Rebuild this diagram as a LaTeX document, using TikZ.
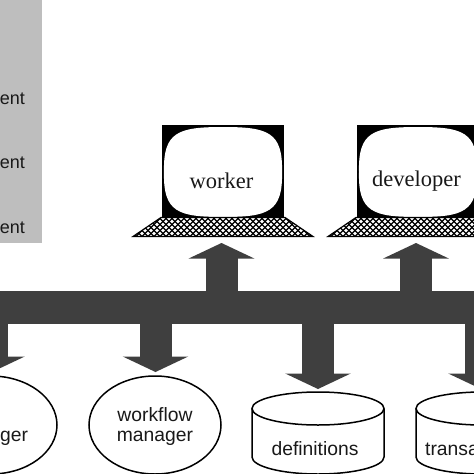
\documentclass[tikz,border=0pt]{standalone}
\usepackage{fontspec}
\setmainfont{Liberation Serif}
\setsansfont{Liberation Sans}
\usetikzlibrary{arrows.meta,shapes.geometric}
\definecolor{bardark}{HTML}{3F3F3F}
\definecolor{panelgrey}{HTML}{BEBEBE}
\tikzset{
  x=1pt,y=-1pt,
  bus/.style={fill=bardark,draw=none,minimum width=500pt,minimum height=33pt,inner sep=0pt},
  bigarrow/.style={draw=bardark,line width=32pt,-{Triangle[length=15.5pt,width=65pt]},shorten >=2pt},
  sanslabel/.style={font=\sffamily\fontsize{19.3}{20}\selectfont,align=center,inner sep=0pt,text=black!90},
  serlabel/.style={font=\rmfamily\fontsize{22.5}{24}\selectfont,inner sep=0pt,text=black!90},
  entlabel/.style={font=\sffamily\fontsize{18}{22}\selectfont,inner sep=0pt,anchor=base east,text=black!90},
  roundnode/.style={ellipse,draw=black,line width=1.5pt,fill=white,minimum width=132pt,minimum height=98pt,inner sep=0pt},
  outline/.style={draw=black,line width=1.5pt,fill=white},
}
\newcommand{\monitor}[3]{% name, centre x, label
  \fill[black] (#2-61,125) rectangle (#2+61,218);
  \fill[white] (#2,127) .. controls (#2-45,127) and (#2-60,132) .. (#2-59,172)
     .. controls (#2-60,212) and (#2-45,217) .. (#2,217)
     .. controls (#2+45,217) and (#2+60,212) .. (#2+59,172)
     .. controls (#2+60,132) and (#2+45,127) .. (#2,127) -- cycle;
  \begin{scope}
    \clip (#2-62,217.5) -- (#2+62,217.5) -- (#2+90,236.5) -- (#2-90,236.5) -- cycle;
    \fill[black] (#2-95,215) rectangle (#2+95,240);
    \foreach \row in {0,...,7}{
      \pgfmathsetmacro{\shift}{mod(\row,2)*3}
      \foreach \col in {-16,...,16}{
        \fill[white] ({#2+\col*6+\shift},{218.5+\row*3}) circle[radius=1.9pt];
      }
    }
  \end{scope}
  \draw[line width=1.2pt,line join=miter] (#2-62,217.5) -- (#2+62,217.5) -- (#2+90,236.5) -- (#2-90,236.5) -- cycle;
  \node[serlabel] (#1) at (#2-1.5,181) {#3};
}
\newcommand{\cyl}[2]{% name, centre x
  \draw[outline] (#2-66,408.5) -- (#2-66,457) arc[start angle=180,end angle=360,x radius=66pt,y radius=17pt] -- (#2+66,408.5);
  \draw[outline] (#2,408.5) ellipse[x radius=66pt,y radius=16.5pt];
  \coordinate (#1) at (#2,392);
}
\begin{document}
\begin{tikzpicture}
\useasboundingbox (0,0) rectangle (474,474);
\clip (0,0) rectangle (474,474);
\fill[white] (0,0) rectangle (474,474);
\fill[panelgrey] (0,0) rectangle (42,243);
\node[entlabel] (ent1) at (25,104) {ent};
\node[entlabel] (ent2) at (25,168) {ent};
\node[entlabel] (ent3) at (25,233) {ent};

\monitor{worker}{223}{worker}
\monitor{developer}{418}{developer}
\coordinate (workerbase) at (221.5,241);
\coordinate (developerbase) at (416,241);

\node[roundnode] (mgr) at (-9,425) {};
\node[roundnode] (wf) at (155,425) {};
\node[sanslabel,anchor=base west] (mgrtext) at (0,441) {ger};
\node[sanslabel] (wftext) at (155,427) {workflow\\manager};

\cyl{defs}{318}
\cyl{trans}{482}
\node[sanslabel] (defstext) at (315,449) {definitions};
\node[sanslabel,anchor=base west] (transtext) at (425,455) {transa};

\node[bus] (bar) at (237,307.5) {};
\coordinate (mgrtop) at (-8,374);
\coordinate (wftop) at (155.5,374);
\coordinate (defstop) at (318,391);
\coordinate (transtop) at (481,391);
\draw[bigarrow] (bar.center -| workerbase) -- (workerbase);
\draw[bigarrow] (bar.center -| developerbase) -- (developerbase);
\draw[bigarrow] (bar.center -| mgrtop) -- (mgrtop);
\draw[bigarrow] (bar.center -| wftop) -- (wftop);
\draw[bigarrow] (bar.center -| defstop) -- (defstop);
\draw[bigarrow] (bar.center -| transtop) -- (transtop);
\end{tikzpicture}
\end{document}
